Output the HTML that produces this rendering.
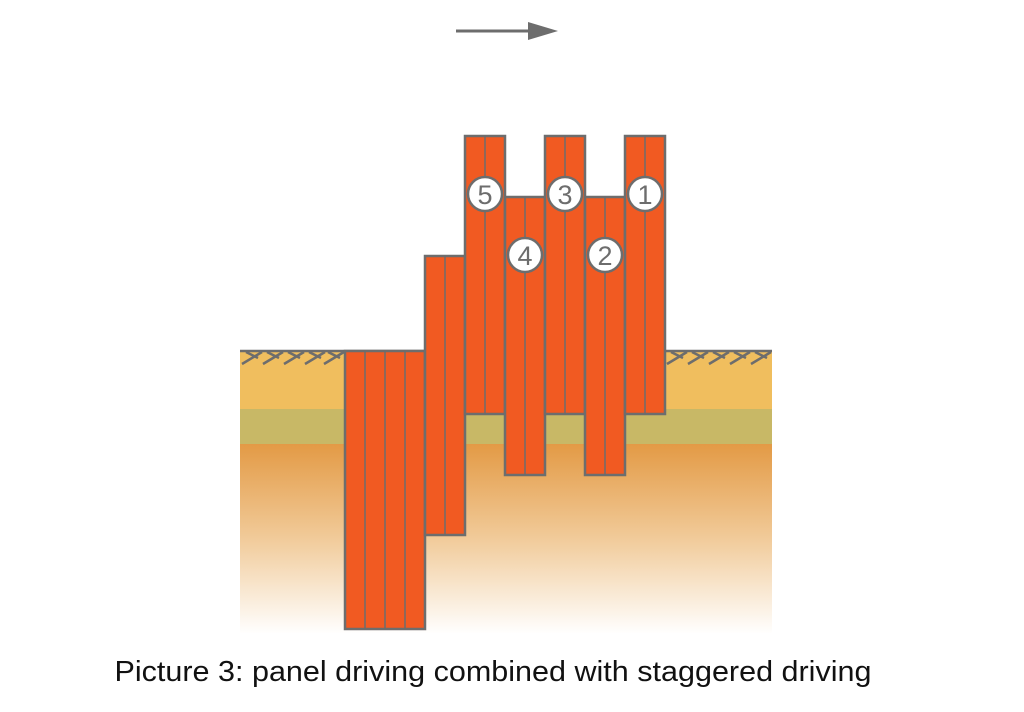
<!DOCTYPE html>
<html><head><meta charset="utf-8"><style>
html,body{margin:0;padding:0;background:#fff;width:1024px;height:712px;overflow:hidden}
</style></head><body>
<svg width="1024" height="712" viewBox="0 0 1024 712" xmlns="http://www.w3.org/2000/svg">
<defs>
<linearGradient id="g" x1="0" y1="0" x2="0" y2="1">
<stop offset="0" stop-color="#e39a45"/>
<stop offset="0.5" stop-color="#f1cb9a"/>
<stop offset="1" stop-color="#ffffff"/>
</linearGradient>
</defs>
<line x1="456" y1="31" x2="532" y2="31" stroke="#6d6d6d" stroke-width="3"/>
<polygon points="528,22 558,31 528,40" fill="#6d6d6d"/>
<rect x="240" y="351" width="532" height="58" fill="#f0be5e"/>
<rect x="240" y="409" width="532" height="36" fill="#c8b866"/>
<rect x="240" y="444" width="532" height="190" fill="url(#g)"/>
<line x1="240" y1="351" x2="772" y2="351" stroke="#6d6d6d" stroke-width="2.5"/>
<g stroke="#6d6d6d" stroke-width="2.5" fill="none">
<path d="M242,364 L262,352 M246,352 L258,358"/>
<path d="M263,364 L283,352 M267,352 L279,358"/>
<path d="M284,364 L304,352 M288,352 L300,358"/>
<path d="M305,364 L325,352 M309,352 L321,358"/>
<path d="M324,364 L344,352 M328,352 L340,358"/>
<path d="M667,364 L687,352 M671,352 L683,358"/>
<path d="M688,364 L708,352 M692,352 L704,358"/>
<path d="M709,364 L729,352 M713,352 L725,358"/>
<path d="M730,364 L750,352 M734,352 L746,358"/>
<path d="M751,364 L771,352 M755,352 L767,358"/>
</g>
<g fill="#f15a22" stroke="#6d6d6d" stroke-width="2.5">
<rect x="345" y="351" width="80" height="278"/>
<rect x="425" y="256" width="40" height="279"/>
<rect x="465" y="136" width="40" height="278"/>
<rect x="505" y="197" width="40" height="278"/>
<rect x="545" y="136" width="40" height="278"/>
<rect x="585" y="197" width="40" height="278"/>
<rect x="625" y="136" width="40" height="278"/>
</g>
<g stroke="#6d6d6d" stroke-width="1.5">
<line x1="365" y1="351" x2="365" y2="629"/>
<line x1="385" y1="351" x2="385" y2="629"/>
<line x1="405" y1="351" x2="405" y2="629"/>
<line x1="445" y1="256" x2="445" y2="535"/>
<line x1="485" y1="136" x2="485" y2="414"/>
<line x1="525" y1="197" x2="525" y2="475"/>
<line x1="565" y1="136" x2="565" y2="414"/>
<line x1="605" y1="197" x2="605" y2="475"/>
<line x1="645" y1="136" x2="645" y2="414"/>
</g>
<g fill="#fff" stroke="#6d6d6d" stroke-width="2.5">
<circle cx="485" cy="194" r="17"/>
<circle cx="525" cy="255" r="17"/>
<circle cx="565" cy="194" r="17"/>
<circle cx="605" cy="255" r="17"/>
<circle cx="645" cy="194" r="17"/>
</g>
<g font-family="Liberation Sans, sans-serif" font-size="27" fill="#6d6d6d" text-anchor="middle" font-weight="300">
<text x="485" y="204">5</text>
<text x="525" y="265">4</text>
<text x="565" y="204">3</text>
<text x="605" y="265">2</text>
<text x="645" y="204">1</text>
</g>
<text x="493" y="681" font-family="Liberation Sans, sans-serif" font-size="29" fill="#111" text-anchor="middle" textLength="757" lengthAdjust="spacingAndGlyphs" font-weight="400">Picture 3: panel driving combined with staggered driving</text>
</svg>
</body></html>
